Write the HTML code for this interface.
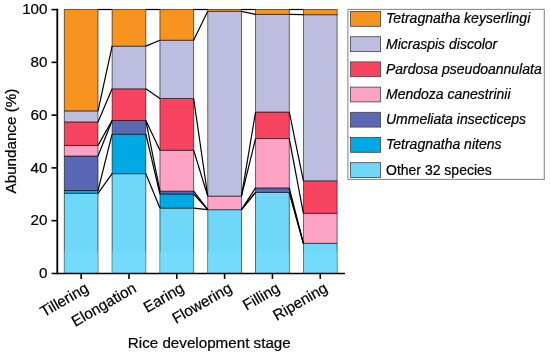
<!DOCTYPE html>
<html><head><meta charset="utf-8"><style>
html,body{margin:0;padding:0;background:#fff;}
svg{display:block;will-change:transform;font-family:"Liberation Sans", sans-serif;}
text{stroke:#000;stroke-width:0.22px;}
</style></head><body>
<svg width="550" height="354" viewBox="0 0 550 354">
<rect x="64.30" y="193.30" width="33.7" height="80.10" fill="#6fd7f7" stroke="#000" stroke-opacity="0.62" stroke-width="0.9"/>
<rect x="64.70" y="251.3" width="32.90" height="22.10" fill="#73dbfb"/>
<rect x="64.30" y="190.50" width="33.7" height="2.80" fill="#00a9e4" stroke="#000" stroke-opacity="0.62" stroke-width="0.9"/>
<rect x="64.30" y="156.00" width="33.7" height="34.50" fill="#5a68b4" stroke="#000" stroke-opacity="0.62" stroke-width="0.9"/>
<rect x="64.30" y="145.40" width="33.7" height="10.60" fill="#fca2c2" stroke="#000" stroke-opacity="0.62" stroke-width="0.9"/>
<rect x="64.30" y="121.90" width="33.7" height="23.50" fill="#f74461" stroke="#000" stroke-opacity="0.62" stroke-width="0.9"/>
<rect x="64.30" y="110.90" width="33.7" height="11.00" fill="#bdbddf" stroke="#000" stroke-opacity="0.62" stroke-width="0.9"/>
<rect x="64.30" y="9.50" width="33.7" height="101.40" fill="#f7931f" stroke="#000" stroke-opacity="0.62" stroke-width="0.9"/>
<rect x="112.12" y="173.70" width="33.7" height="99.70" fill="#6fd7f7" stroke="#000" stroke-opacity="0.62" stroke-width="0.9"/>
<rect x="112.52" y="251.3" width="32.90" height="22.10" fill="#73dbfb"/>
<rect x="112.12" y="134.20" width="33.7" height="39.50" fill="#00a9e4" stroke="#000" stroke-opacity="0.62" stroke-width="0.9"/>
<rect x="112.12" y="120.50" width="33.7" height="13.70" fill="#5a68b4" stroke="#000" stroke-opacity="0.62" stroke-width="0.9"/>
<rect x="112.12" y="88.80" width="33.7" height="31.70" fill="#f74461" stroke="#000" stroke-opacity="0.62" stroke-width="0.9"/>
<rect x="112.12" y="46.10" width="33.7" height="42.70" fill="#bdbddf" stroke="#000" stroke-opacity="0.62" stroke-width="0.9"/>
<rect x="112.12" y="9.50" width="33.7" height="36.60" fill="#f7931f" stroke="#000" stroke-opacity="0.62" stroke-width="0.9"/>
<rect x="159.94" y="208.10" width="33.7" height="65.30" fill="#6fd7f7" stroke="#000" stroke-opacity="0.62" stroke-width="0.9"/>
<rect x="160.34" y="251.3" width="32.90" height="22.10" fill="#73dbfb"/>
<rect x="159.94" y="194.00" width="33.7" height="14.10" fill="#00a9e4" stroke="#000" stroke-opacity="0.62" stroke-width="0.9"/>
<rect x="159.94" y="191.10" width="33.7" height="2.90" fill="#5a68b4" stroke="#000" stroke-opacity="0.62" stroke-width="0.9"/>
<rect x="159.94" y="150.20" width="33.7" height="40.90" fill="#fca2c2" stroke="#000" stroke-opacity="0.62" stroke-width="0.9"/>
<rect x="159.94" y="98.50" width="33.7" height="51.70" fill="#f74461" stroke="#000" stroke-opacity="0.62" stroke-width="0.9"/>
<rect x="159.94" y="40.20" width="33.7" height="58.30" fill="#bdbddf" stroke="#000" stroke-opacity="0.62" stroke-width="0.9"/>
<rect x="159.94" y="9.50" width="33.7" height="30.70" fill="#f7931f" stroke="#000" stroke-opacity="0.62" stroke-width="0.9"/>
<rect x="207.76" y="209.70" width="33.7" height="63.70" fill="#6fd7f7" stroke="#000" stroke-opacity="0.62" stroke-width="0.9"/>
<rect x="208.16" y="251.3" width="32.90" height="22.10" fill="#73dbfb"/>
<rect x="207.76" y="196.10" width="33.7" height="13.60" fill="#fca2c2" stroke="#000" stroke-opacity="0.62" stroke-width="0.9"/>
<rect x="207.76" y="11.30" width="33.7" height="184.80" fill="#bdbddf" stroke="#000" stroke-opacity="0.62" stroke-width="0.9"/>
<rect x="207.76" y="9.50" width="33.7" height="1.80" fill="#f7931f" stroke="#000" stroke-opacity="0.62" stroke-width="0.9"/>
<rect x="255.58" y="192.40" width="33.7" height="81.00" fill="#6fd7f7" stroke="#000" stroke-opacity="0.62" stroke-width="0.9"/>
<rect x="255.98" y="251.3" width="32.90" height="22.10" fill="#73dbfb"/>
<rect x="255.58" y="187.90" width="33.7" height="4.50" fill="#5a68b4" stroke="#000" stroke-opacity="0.62" stroke-width="0.9"/>
<rect x="255.58" y="138.60" width="33.7" height="49.30" fill="#fca2c2" stroke="#000" stroke-opacity="0.62" stroke-width="0.9"/>
<rect x="255.58" y="112.00" width="33.7" height="26.60" fill="#f74461" stroke="#000" stroke-opacity="0.62" stroke-width="0.9"/>
<rect x="255.58" y="14.35" width="33.7" height="97.65" fill="#bdbddf" stroke="#000" stroke-opacity="0.62" stroke-width="0.9"/>
<rect x="255.58" y="9.50" width="33.7" height="4.85" fill="#f7931f" stroke="#000" stroke-opacity="0.62" stroke-width="0.9"/>
<rect x="303.40" y="243.30" width="33.7" height="30.10" fill="#6fd7f7" stroke="#000" stroke-opacity="0.62" stroke-width="0.9"/>
<rect x="303.80" y="251.3" width="32.90" height="22.10" fill="#73dbfb"/>
<rect x="303.40" y="213.30" width="33.7" height="30.00" fill="#fca2c2" stroke="#000" stroke-opacity="0.62" stroke-width="0.9"/>
<rect x="303.40" y="180.80" width="33.7" height="32.50" fill="#f74461" stroke="#000" stroke-opacity="0.62" stroke-width="0.9"/>
<rect x="303.40" y="14.70" width="33.7" height="166.10" fill="#bdbddf" stroke="#000" stroke-opacity="0.62" stroke-width="0.9"/>
<rect x="303.40" y="9.50" width="33.7" height="5.20" fill="#f7931f" stroke="#000" stroke-opacity="0.62" stroke-width="0.9"/>
<line x1="98.00" y1="193.30" x2="112.12" y2="173.70" stroke="#000" stroke-width="1.2"/>
<line x1="98.00" y1="190.50" x2="112.12" y2="134.20" stroke="#000" stroke-width="1.2"/>
<line x1="98.00" y1="156.00" x2="112.12" y2="120.50" stroke="#000" stroke-width="1.2"/>
<line x1="98.00" y1="145.40" x2="112.12" y2="120.50" stroke="#000" stroke-width="1.2"/>
<line x1="98.00" y1="121.90" x2="112.12" y2="88.80" stroke="#000" stroke-width="1.2"/>
<line x1="98.00" y1="110.90" x2="112.12" y2="46.10" stroke="#000" stroke-width="1.2"/>
<line x1="98.00" y1="9.50" x2="112.12" y2="9.50" stroke="#000" stroke-width="1.2"/>
<line x1="145.82" y1="173.70" x2="159.94" y2="208.10" stroke="#000" stroke-width="1.2"/>
<line x1="145.82" y1="134.20" x2="159.94" y2="194.00" stroke="#000" stroke-width="1.2"/>
<line x1="145.82" y1="120.50" x2="159.94" y2="191.10" stroke="#000" stroke-width="1.2"/>
<line x1="145.82" y1="120.50" x2="159.94" y2="150.20" stroke="#000" stroke-width="1.2"/>
<line x1="145.82" y1="88.80" x2="159.94" y2="98.50" stroke="#000" stroke-width="1.2"/>
<line x1="145.82" y1="46.10" x2="159.94" y2="40.20" stroke="#000" stroke-width="1.2"/>
<line x1="145.82" y1="9.50" x2="159.94" y2="9.50" stroke="#000" stroke-width="1.2"/>
<line x1="193.64" y1="208.10" x2="207.76" y2="209.70" stroke="#000" stroke-width="1.2"/>
<line x1="193.64" y1="194.00" x2="207.76" y2="209.70" stroke="#000" stroke-width="1.2"/>
<line x1="193.64" y1="191.10" x2="207.76" y2="209.70" stroke="#000" stroke-width="1.2"/>
<line x1="193.64" y1="150.20" x2="207.76" y2="196.10" stroke="#000" stroke-width="1.2"/>
<line x1="193.64" y1="98.50" x2="207.76" y2="196.10" stroke="#000" stroke-width="1.2"/>
<line x1="193.64" y1="40.20" x2="207.76" y2="11.30" stroke="#000" stroke-width="1.2"/>
<line x1="193.64" y1="9.50" x2="207.76" y2="9.50" stroke="#000" stroke-width="1.2"/>
<line x1="241.46" y1="209.70" x2="255.58" y2="192.40" stroke="#000" stroke-width="1.2"/>
<line x1="241.46" y1="209.70" x2="255.58" y2="192.40" stroke="#000" stroke-width="1.2"/>
<line x1="241.46" y1="209.70" x2="255.58" y2="187.90" stroke="#000" stroke-width="1.2"/>
<line x1="241.46" y1="196.10" x2="255.58" y2="138.60" stroke="#000" stroke-width="1.2"/>
<line x1="241.46" y1="196.10" x2="255.58" y2="112.00" stroke="#000" stroke-width="1.2"/>
<line x1="241.46" y1="11.30" x2="255.58" y2="14.35" stroke="#000" stroke-width="1.2"/>
<line x1="241.46" y1="9.50" x2="255.58" y2="9.50" stroke="#000" stroke-width="1.2"/>
<line x1="289.28" y1="192.40" x2="303.40" y2="243.30" stroke="#000" stroke-width="1.2"/>
<line x1="289.28" y1="192.40" x2="303.40" y2="243.30" stroke="#000" stroke-width="1.2"/>
<line x1="289.28" y1="187.90" x2="303.40" y2="243.30" stroke="#000" stroke-width="1.2"/>
<line x1="289.28" y1="138.60" x2="303.40" y2="213.30" stroke="#000" stroke-width="1.2"/>
<line x1="289.28" y1="112.00" x2="303.40" y2="180.80" stroke="#000" stroke-width="1.2"/>
<line x1="289.28" y1="14.35" x2="303.40" y2="14.70" stroke="#000" stroke-width="1.2"/>
<line x1="289.28" y1="9.50" x2="303.40" y2="9.50" stroke="#000" stroke-width="1.2"/>
<line x1="57.3" y1="8.799999999999999" x2="57.3" y2="274.25" stroke="#000" stroke-width="1.8"/>
<line x1="51.6" y1="273.50" x2="345" y2="273.50" stroke="#000" stroke-width="1.5"/>
<text x="47.5" y="278.20" text-anchor="end" font-size="15.2">0</text>
<line x1="51.5" y1="220.64" x2="57.3" y2="220.64" stroke="#000" stroke-width="1.6"/>
<text x="47.5" y="225.44" text-anchor="end" font-size="15.2">20</text>
<line x1="51.5" y1="167.88" x2="57.3" y2="167.88" stroke="#000" stroke-width="1.6"/>
<text x="47.5" y="172.68" text-anchor="end" font-size="15.2">40</text>
<line x1="51.5" y1="115.12" x2="57.3" y2="115.12" stroke="#000" stroke-width="1.6"/>
<text x="47.5" y="119.92" text-anchor="end" font-size="15.2">60</text>
<line x1="51.5" y1="62.36" x2="57.3" y2="62.36" stroke="#000" stroke-width="1.6"/>
<text x="47.5" y="67.16" text-anchor="end" font-size="15.2">80</text>
<line x1="51.5" y1="9.60" x2="57.3" y2="9.60" stroke="#000" stroke-width="1.6"/>
<text x="47.5" y="14.40" text-anchor="end" font-size="15.2">100</text>
<line x1="81.15" y1="273.4" x2="81.15" y2="278.9" stroke="#000" stroke-width="1.6"/>
<line x1="128.97" y1="273.4" x2="128.97" y2="278.9" stroke="#000" stroke-width="1.6"/>
<line x1="176.79" y1="273.4" x2="176.79" y2="278.9" stroke="#000" stroke-width="1.6"/>
<line x1="224.61" y1="273.4" x2="224.61" y2="278.9" stroke="#000" stroke-width="1.6"/>
<line x1="272.43" y1="273.4" x2="272.43" y2="278.9" stroke="#000" stroke-width="1.6"/>
<line x1="320.25" y1="273.4" x2="320.25" y2="278.9" stroke="#000" stroke-width="1.6"/>
<text transform="translate(89.55,291) rotate(-30)" text-anchor="end" font-size="15.2">Tillering</text>
<text transform="translate(137.37,291) rotate(-30)" text-anchor="end" font-size="15.2">Elongation</text>
<text transform="translate(185.19,291) rotate(-30)" text-anchor="end" font-size="15.2">Earing</text>
<text transform="translate(233.01,291) rotate(-30)" text-anchor="end" font-size="15.2">Flowering</text>
<text transform="translate(280.83,291) rotate(-30)" text-anchor="end" font-size="15.2">Filling</text>
<text transform="translate(328.65,291) rotate(-30)" text-anchor="end" font-size="15.2">Ripening</text>
<text x="209.3" y="348" text-anchor="middle" font-size="15.2">Rice development stage</text>
<text transform="translate(15.7,141.1) rotate(-90)" text-anchor="middle" font-size="15.2">Abundance (%)</text>
<rect x="347.9" y="9.4" width="196.4" height="170.0" fill="#fff" stroke="#8c8c8c" stroke-width="1.1"/>
<rect x="350.4" y="11.50" width="30.2" height="14.8" fill="#f7931f" stroke="#444" stroke-width="0.8"/>
<text x="386.0" y="23.30" font-size="14" font-style="italic">Tetragnatha keyserlingi</text>
<rect x="350.4" y="36.70" width="30.2" height="14.8" fill="#bdbddf" stroke="#444" stroke-width="0.8"/>
<text x="386.0" y="48.50" font-size="14" font-style="italic">Micraspis discolor</text>
<rect x="350.4" y="61.90" width="30.2" height="14.8" fill="#f74461" stroke="#444" stroke-width="0.8"/>
<text x="386.0" y="73.70" font-size="14" font-style="italic">Pardosa pseudoannulata</text>
<rect x="350.4" y="87.10" width="30.2" height="14.8" fill="#fca2c2" stroke="#444" stroke-width="0.8"/>
<text x="386.0" y="98.90" font-size="14" font-style="italic">Mendoza canestrinii</text>
<rect x="350.4" y="112.30" width="30.2" height="14.8" fill="#5a68b4" stroke="#444" stroke-width="0.8"/>
<text x="386.0" y="124.10" font-size="14" font-style="italic">Ummeliata insecticeps</text>
<rect x="350.4" y="137.50" width="30.2" height="14.8" fill="#00a9e4" stroke="#444" stroke-width="0.8"/>
<text x="386.0" y="149.30" font-size="14" font-style="italic">Tetragnatha nitens</text>
<rect x="350.4" y="162.70" width="30.2" height="14.8" fill="#6fd7f7" stroke="#444" stroke-width="0.8"/>
<text x="386.0" y="174.50" font-size="14" >Other 32 species</text>
</svg>
</body></html>
